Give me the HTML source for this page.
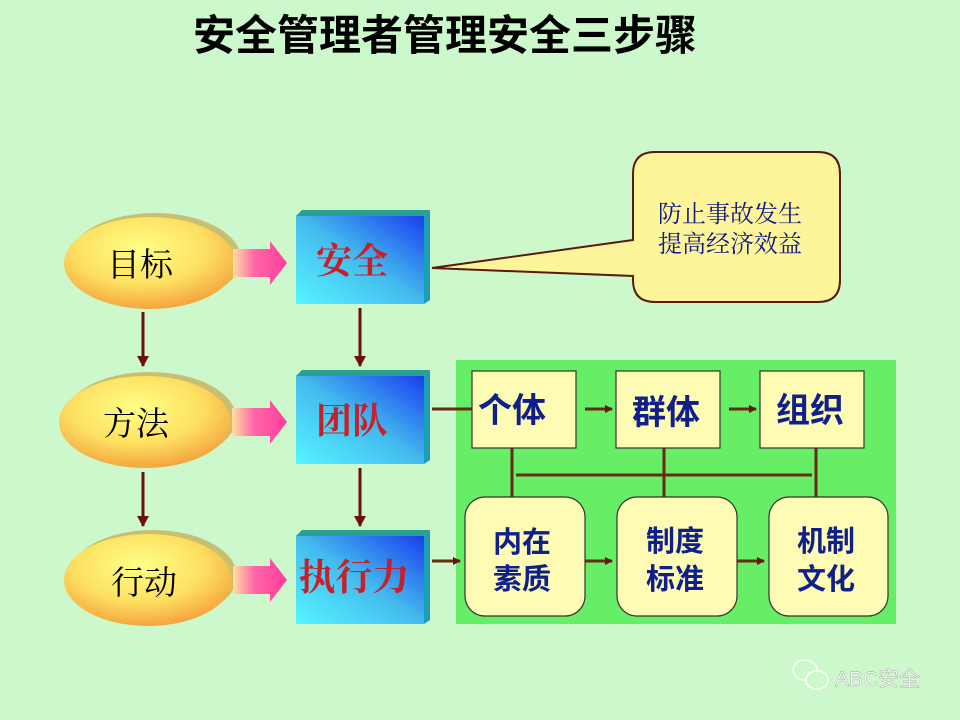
<!DOCTYPE html>
<html><head><meta charset="utf-8"><style>
html,body{margin:0;padding:0;background:#ccf8cc;}
svg{display:block;}
text{font-family:"Liberation Sans","Noto Sans CJK SC",sans-serif;}
.sf{font-family:"Liberation Serif","Noto Serif CJK SC",serif;}
</style></head><body>
<svg width="960" height="720" viewBox="0 0 960 720" xmlns="http://www.w3.org/2000/svg">
<defs>
<radialGradient id="ell" cx="0.45" cy="0.35" r="0.7">
<stop offset="0" stop-color="#ffff88"/><stop offset="0.55" stop-color="#fde060"/><stop offset="1" stop-color="#f39a3a"/>
</radialGradient>
<linearGradient id="blue" x1="0" y1="1" x2="1" y2="0">
<stop offset="0" stop-color="#55f5ff"/><stop offset="0.5" stop-color="#44bbee"/><stop offset="1" stop-color="#1a3ef0"/>
</linearGradient>
<linearGradient id="pink" x1="0" y1="0" x2="1" y2="0">
<stop offset="0" stop-color="#ffe0a0"/><stop offset="0.4" stop-color="#ff66aa"/><stop offset="1" stop-color="#ff3c9a"/>
</linearGradient>
<marker id="ah" markerWidth="8" markerHeight="8" refX="7" refY="4" orient="auto" markerUnits="userSpaceOnUse"><path d="M0,0 L8,4 L0,8 Z" fill="#6b1010"/></marker>
<marker id="ah2" markerWidth="12" markerHeight="12" refX="10" refY="6" orient="auto" markerUnits="userSpaceOnUse"><path d="M0,0 L11,6 L0,12 Z" fill="#6b1010"/></marker>
</defs>
<text x="445" y="50" font-size="42" font-weight="bold" text-anchor="middle" fill="#000">安全管理者管理安全三步骤</text>

<g>
<ellipse cx="155" cy="259" rx="86" ry="46" fill="#c8c070"/>
<ellipse cx="150" cy="263" rx="86" ry="46" fill="url(#ell)"/>
<text class="sf" x="140" y="276" font-size="33" text-anchor="middle">目标</text>
<ellipse cx="150" cy="418" rx="86" ry="46" fill="#c8c070"/>
<ellipse cx="145" cy="422" rx="86" ry="46" fill="url(#ell)"/>
<text class="sf" x="136" y="435" font-size="33" text-anchor="middle">方法</text>
<ellipse cx="153" cy="576" rx="84" ry="46" fill="#c8c070"/>
<ellipse cx="148" cy="580" rx="84" ry="46" fill="url(#ell)"/>
<text class="sf" x="144" y="594" font-size="33" text-anchor="middle">行动</text>
</g>

<g fill="url(#pink)">
<path d="M233,249 L270,249 L270,241 L287,263 L270,285 L270,277 L233,277 Z"/>
<path d="M232,408 L270,408 L270,400 L287,422 L270,444 L270,436 L232,436 Z"/>
<path d="M233,566 L270,566 L270,558 L287,580 L270,602 L270,594 L233,594 Z"/>
</g>

<g>
<path d="M296,216 L302,210 L430,210 L424,216 Z" fill="#2aa090"/>
<path d="M424,216 L430,210 L430,300 L424,304 Z" fill="#1aa0b0"/>
<rect x="296" y="216" width="128" height="88" fill="url(#blue)"/>
<text class="sf" x="352" y="273" font-size="36" font-weight="bold" fill="#c8202a" text-anchor="middle">安全</text>
<path d="M296,376 L302,370 L430,370 L424,376 Z" fill="#2aa090"/>
<path d="M424,376 L430,370 L430,460 L424,464 Z" fill="#1aa0b0"/>
<rect x="296" y="376" width="128" height="88" fill="url(#blue)"/>
<text class="sf" x="352" y="433" font-size="36" font-weight="bold" fill="#c8202a" text-anchor="middle">团队</text>
<path d="M296,536 L302,530 L430,530 L424,536 Z" fill="#2aa090"/>
<path d="M424,536 L430,530 L430,620 L424,624 Z" fill="#1aa0b0"/>
<rect x="296" y="536" width="128" height="88" fill="url(#blue)"/>
<text class="sf" x="354" y="590" font-size="37" font-weight="bold" fill="#c8202a" text-anchor="middle">执行力</text>
</g>

<g stroke="#6b1010" stroke-width="3">
<line x1="143" y1="312" x2="143" y2="366" marker-end="url(#ah2)"/>
<line x1="143" y1="472" x2="143" y2="526" marker-end="url(#ah2)"/>
<line x1="360" y1="308" x2="360" y2="366" marker-end="url(#ah2)"/>
<line x1="360" y1="468" x2="360" y2="526" marker-end="url(#ah2)"/>
</g>

<path d="M655,152 L818,152 Q840,152 840,174 L840,280 Q840,302 818,302 L655,302 Q633,302 633,280 L633,276 L432,268 L633,240 L633,174 Q633,152 655,152 Z" fill="#fef59a" stroke="#5a1a10" stroke-width="2"/>
<text class="sf" x="730" y="222" font-size="24" fill="#101a80" text-anchor="middle">防止事故发生</text>
<text class="sf" x="730" y="252" font-size="24" fill="#101a80" text-anchor="middle">提高经济效益</text>

<rect x="456" y="360" width="440" height="264" fill="#66ee66"/>
<g stroke="#6b2a10" stroke-width="3" fill="none">
<line x1="512" y1="448" x2="512" y2="497"/>
<line x1="664" y1="448" x2="664" y2="497"/>
<line x1="816" y1="448" x2="816" y2="497"/>
<line x1="516" y1="475" x2="812" y2="475"/>
</g>
<g stroke="#6b2a10" stroke-width="3">
<line x1="432" y1="409" x2="472" y2="409"/>
<line x1="585" y1="409" x2="612" y2="409" marker-end="url(#ah)"/>
<line x1="729" y1="409" x2="756" y2="409" marker-end="url(#ah)"/>
<line x1="432" y1="561" x2="460" y2="561" marker-end="url(#ah)"/>
<line x1="585" y1="561" x2="612" y2="561" marker-end="url(#ah)"/>
<line x1="737" y1="561" x2="764" y2="561" marker-end="url(#ah)"/>
</g>
<g fill="#fdfbb4" stroke="#333" stroke-width="1.2">
<rect x="472" y="371" width="104" height="77"/>
<rect x="616" y="371" width="104" height="77"/>
<rect x="760" y="371" width="104" height="77"/>
<rect x="465" y="497" width="120" height="119" rx="20"/>
<rect x="617" y="497" width="120" height="119" rx="20"/>
<rect x="769" y="497" width="119" height="119" rx="20"/>
</g>
<g font-size="34" font-weight="bold" fill="#10208a" text-anchor="middle">
<text x="512" y="422">个体</text>
<text x="666" y="424">群体</text>
<text x="810" y="422">组织</text>
</g>
<g font-size="29" font-weight="bold" fill="#10208a" text-anchor="middle">
<text x="522" y="552">内在</text>
<text x="522" y="589">素质</text>
<text x="675" y="551">制度</text>
<text x="675" y="589">标准</text>
<text x="826" y="551">机制</text>
<text x="826" y="589">文化</text>
</g>

<g fill="none" stroke="#fff" stroke-width="1.5">
<ellipse cx="805" cy="670" rx="12" ry="10"/>
<ellipse cx="817" cy="680" rx="11" ry="9" fill="#ccf8cc"/>
</g>
<text x="835" y="686" font-size="21" fill="#fff" stroke="#999" stroke-width="0.4">ABC安全</text>
</svg>
</body></html>
